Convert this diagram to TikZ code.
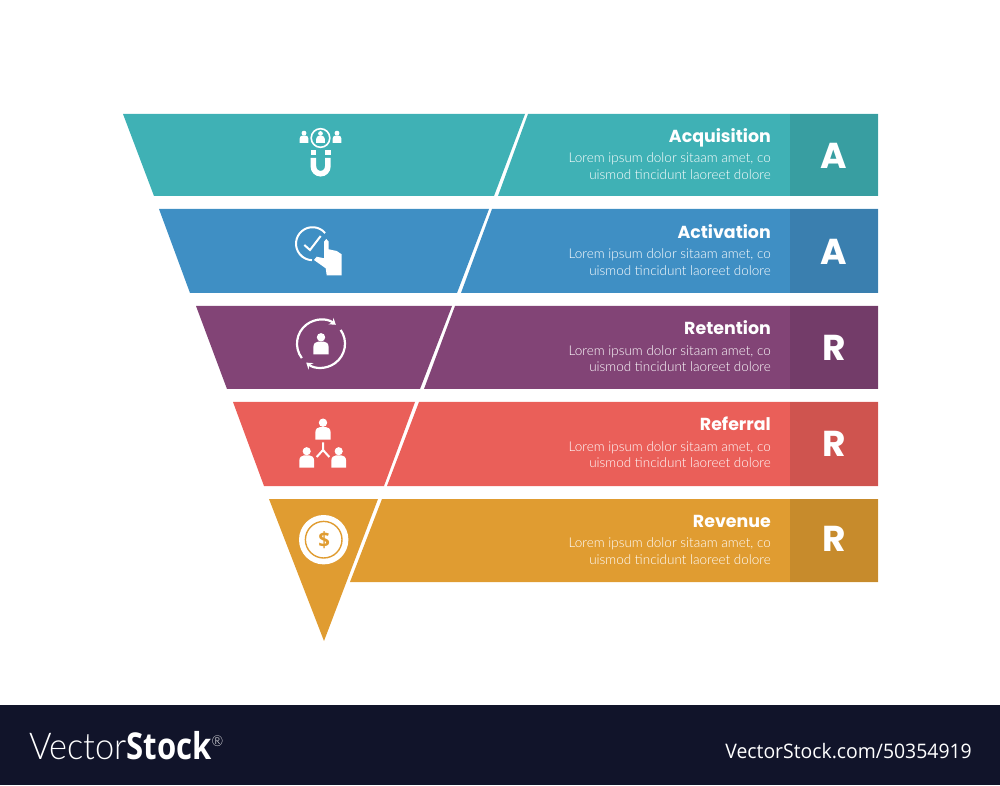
\documentclass[tikz,border=0pt]{standalone}
\usepackage{fontspec}
\usetikzlibrary{arrows.meta}
\newfontfamily\titlefont{Poppins}
\newfontfamily\bodyfont{Lato Light}
\newfontfamily\logofont[FakeStretch=0.84]{Open Sans}
\newfontfamily\logolight[FakeStretch=0.93]{Lato Light}
\newfontfamily\stockfont[FakeStretch=0.97]{Open Sans}

\definecolor{tealband}{HTML}{3FB1B5}
\definecolor{tealbox}{HTML}{389EA1}
\definecolor{blueband}{HTML}{3F8FC4}
\definecolor{bluebox}{HTML}{3A7FAF}
\definecolor{purpleband}{HTML}{824476}
\definecolor{purplebox}{HTML}{733C69}
\definecolor{redband}{HTML}{EA5F59}
\definecolor{redbox}{HTML}{CF544F}
\definecolor{orangeband}{HTML}{E09C31}
\definecolor{orangebox}{HTML}{C78B2C}
\definecolor{footerbar}{HTML}{11142A}

\tikzset{
  titletext/.style={anchor=base east,inner sep=0pt,text=white,font=\titlefont\bfseries\fontsize{17.4}{20}\selectfont},
  bodytext/.style={anchor=north east,inner sep=0pt,align=right,text=white,font=\bodyfont\fontsize{13.5}{16.5}\selectfont},
  lettertext/.style={anchor=base,inner sep=0pt,text=white,font=\titlefont\bfseries\fontsize{36}{40}\selectfont},
  iconline/.style={draw=white,line width=1.6pt},
  pics/personfig/.style={code={
    \fill[white] (0,17) circle (4.2);
    \fill[white] (-7.6,0) -- (-7.6,7.5) .. controls (-7.6,11) and (-5,12.6) .. (-3,12.6)
      -- (3,12.6) .. controls (5,12.6) and (7.6,11) .. (7.6,7.5) -- (7.6,0) -- cycle;
  }}
}

\begin{document}
\begin{tikzpicture}[x=1pt,y=1pt]
  \useasboundingbox (0,0) rectangle (1000,785);

  % bands
  \fill[tealband] (123,671) -- (525,671) -- (494,589) -- (154,589) -- cycle;
  \fill[tealband] (528,671) -- (878,671) -- (878,589) -- (498,589) -- cycle;
  \fill[tealbox] (790,671) rectangle (878,589);

  \fill[blueband] (159,576) -- (489,576) -- (457,492) -- (190,492) -- cycle;
  \fill[blueband] (492,576) -- (878,576) -- (878,492) -- (461,492) -- cycle;
  \fill[bluebox] (790,576) rectangle (878,492);

  \fill[purpleband] (196,479) -- (452,479) -- (420,396) -- (227,396) -- cycle;
  \fill[purpleband] (455,479) -- (878,479) -- (878,396) -- (424,396) -- cycle;
  \fill[purplebox] (790,479) rectangle (878,396);

  \fill[redband] (233,383) -- (415,383) -- (384,299) -- (264,299) -- cycle;
  \fill[redband] (419,383) -- (878,383) -- (878,299) -- (387,299) -- cycle;
  \fill[redbox] (790,383) rectangle (878,299);

  \fill[orangeband] (269,286) -- (378,286) -- (324,144) -- cycle;
  \fill[orangeband] (382,286) -- (878,286) -- (878,203) -- (350,203) -- cycle;
  \fill[orangebox] (790,286) rectangle (878,203);

  % magnet icon
  \draw[iconline] (320.5,647) circle (9.3);
  \pic[scale=.56] at (320.5,642) {personfig};
  \pic[scale=.58] at (304,642) {personfig};
  \pic[scale=.58] at (337,642) {personfig};
  \fill[white] (310.5,634.5) rectangle (316.3,629.5);
  \fill[white] (325,634.5) rectangle (331,629.5);
  \draw[white,line width=5.6pt] (313.4,627) -- (313.4,618.5) arc[start angle=180,end angle=360,radius=7.2] -- (327.8,627);

  % click icon
  \draw[iconline,line width=2pt] ([shift={(312.5,541.3)}]40:16.5) arc[start angle=40,end angle=268,radius=16.5];
  \draw[iconline,line width=2pt] (304.3,540) -- (310,535) -- (320.7,549);
  \fill[white] (324,543.3) -- (326.3,546) -- (328.7,543.3) -- (328.7,535.7) -- (336.7,534) -- (341.7,530.7)
    -- (341.7,509.7) -- (326.7,509.7) -- (325.7,516.7) -- (314,525) -- (316.7,528.3) -- (324,526.7) -- cycle;

  % retention icon
  \draw[iconline,line width=2.2pt,-{Stealth[length=6pt,width=8pt]}] ([shift={(321,441.3)}]217:24) arc[start angle=217,end angle=52,radius=24];
  \draw[iconline,line width=2.2pt,-{Stealth[length=6pt,width=8pt]}] ([shift={(321,441.3)}]35:24) arc[start angle=35,end angle=-128,radius=24];
  \pic at (321,430.7) {personfig};

  % referral icon
  \pic at (323,345.3) {personfig};
  \pic[scale=.97] at (306.7,317.3) {personfig};
  \pic[scale=.97] at (338.7,317.3) {personfig};
  \draw[white,line width=2pt] (323,342.7) -- (323,335) -- (316.7,328);
  \draw[white,line width=2pt] (323,335) -- (329.3,328);

  % revenue icon
  \fill[white] (323.7,245.3) circle (24.7);
  \draw[orangeband,line width=1.4pt] (323.7,245.3) circle (18.3);
  \node[inner sep=0pt,text=orangeband,font=\stockfont\bfseries\fontsize{21}{24}\selectfont] (dollar) at (324.3,245.3) {\$};

  % texts
  \node[titletext] (title1) at (771,642.5) {Acquisition};
  \node[titletext] (title2) at (771,546.5) {Activation};
  \node[titletext] (title3) at (771,450) {Retention};
  \node[titletext] (title4) at (771,354) {Referral};
  \node[titletext] (title5) at (771,257.5) {Revenue};

  \node[bodytext] (text1) at (771,632.5) {Lorem ipsum dolor sitaam amet, co\\uismod tincidunt laoreet dolore};
  \node[bodytext] (text2) at (771,536.5) {Lorem ipsum dolor sitaam amet, co\\uismod tincidunt laoreet dolore};
  \node[bodytext] (text3) at (771,440) {Lorem ipsum dolor sitaam amet, co\\uismod tincidunt laoreet dolore};
  \node[bodytext] (text4) at (771,344) {Lorem ipsum dolor sitaam amet, co\\uismod tincidunt laoreet dolore};
  \node[bodytext] (text5) at (771,247.5) {Lorem ipsum dolor sitaam amet, co\\uismod tincidunt laoreet dolore};

  \node[lettertext] (letter1) at (834,616) {A};
  \node[lettertext] (letter2) at (834,520) {A};
  \node[lettertext] (letter3) at (834,424) {R};
  \node[lettertext] (letter4) at (834,329) {R};
  \node[lettertext] (letter5) at (834,234) {R};

  % footer
  \fill[footerbar] (0,0) rectangle (1000,80);
  \node[anchor=base west,inner sep=0pt,text=white] (logo) at (29,26) {\fontsize{37}{40}\selectfont{\logolight Vector}{\logofont\bfseries Stock}\raisebox{13pt}{\fontsize{15}{16}\selectfont\logolight\textregistered}};
  \node[anchor=base east,inner sep=0pt,text=white,font=\stockfont\fontsize{20}{24}\selectfont] (stockid) at (972,27) {VectorStock.com/50354919};
\end{tikzpicture}
\end{document}
